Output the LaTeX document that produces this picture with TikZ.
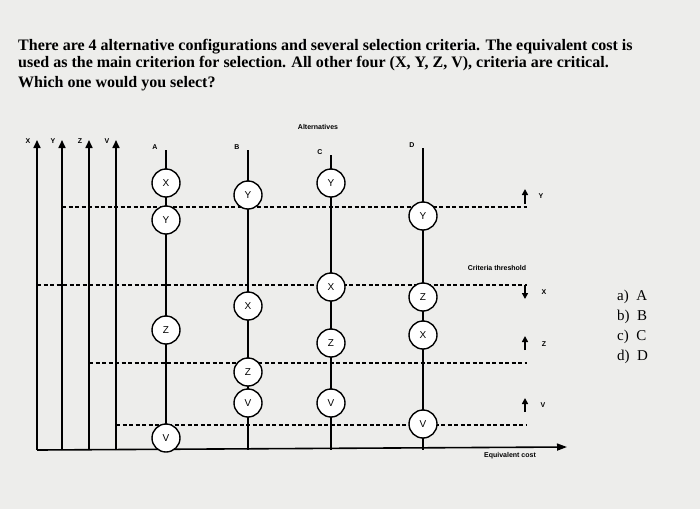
\documentclass[tikz,border=0pt]{standalone}
\usepackage{fontspec}
\setmainfont{Liberation Serif}
\newfontfamily\sansf{Liberation Sans}
\usetikzlibrary{arrows.meta}
\definecolor{bg}{HTML}{EDEDEB}
\begin{document}
\begin{tikzpicture}[x=1pt,y=-1pt,
  crit/.style={circle,draw,line width=1.4pt,minimum size=28pt,inner sep=0pt,fill=white,font=\sansf\fontsize{10}{10}\selectfont},
  alt/.style={line width=1.4pt},
  axis/.style={line width=1.6pt,-{Triangle[length=8pt,width=7pt]}},
  thr/.style={line width=1.3pt,dash pattern=on 4pt off 2.5pt},
  tiny/.style={font=\sansf\bfseries\fontsize{7}{8}\selectfont},
  qtext/.style={anchor=base west,inner sep=0pt,font=\fontsize{16}{18}\selectfont\bfseries},
  ans/.style={anchor=base west,inner sep=0pt,font=\fontsize{15}{16}\selectfont},
  sarrow/.style={line width=1.6pt,-{Triangle[length=6pt,width=6pt]}}]
\fill[bg] (0,0) rectangle (700,509);
\useasboundingbox (0,0) rectangle (700,509);
\node[qtext] (q1) at (18,50) {There are 4 alternative configurations and several selection criteria. The equivalent cost is};
\node[qtext] (q2) at (18,67) {used as the main criterion for selection. All other four (X, Y, Z, V), criteria are critical.};
\node[qtext] (q3) at (18,87) {Which one would you select?};
\node[ans] (a1) at (617,300) {a)\ \ A};
\node[ans] (a2) at (617,320) {b)\ \ B};
\node[ans] (a3) at (617,340) {c)\ \ C};
\node[ans] (a4) at (617,360) {d)\ \ D};
% axes
\coordinate (o) at (37,450);
\coordinate (xe) at (567,447);
\draw[line width=1.6pt,-{Triangle[length=10pt,width=7pt]}] (o) -- (xe);
\foreach \n/\x/\l in {ax/37/X,ay/62/Y,az/89/Z,av/116/V}{
  \coordinate (\n b) at (\x,450);
  \coordinate (\n t) at (\x,140);
  \draw[axis] (\n b) -- (\n t);
  \node[tiny] (\n l) at (\x-9,141) {\l};
}
\node[tiny] (altl) at (318,127) {Alternatives};
\node[tiny] (crl) at (497,268) {Criteria threshold};
\node[tiny] (eql) at (510,456) {Equivalent cost};
% thresholds
\coordinate (ty) at (527,207); \coordinate (tx) at (527,285);
\coordinate (tz) at (527,363); \coordinate (tv) at (527,425);
\draw[thr] (62,207) -- (ty);
\draw[thr] (37,285) -- (tx);
\draw[thr] (89,363) -- (tz);
\draw[thr] (116,425) -- (tv);
\coordinate (ay1) at (525,204); \coordinate (ay2) at (525,189);
\coordinate (ax1) at (525,285); \coordinate (ax2) at (525,299);
\coordinate (az1) at (525,350); \coordinate (az2) at (525,336);
\coordinate (av1) at (525,412); \coordinate (av2) at (525,398);
\draw[sarrow] (ay1) -- (ay2); \draw[sarrow] (ax1) -- (ax2);
\draw[sarrow] (az1) -- (az2); \draw[sarrow] (av1) -- (av2);
\node[tiny] (ly) at (541,196) {Y};
\node[tiny] (lx) at (544,292) {X};
\node[tiny] (lz) at (544,344) {Z};
\node[tiny] (lv) at (543,405) {V};
% alternatives
\foreach \n/\x/\t/\px/\py/\pz/\pv in {A/166/150/183/220/330/438, B/248/150/306/195/372/403, C/331/155/287/183/343/403, D/423/148/335/216/297/424}{
  \coordinate (\n t) at (\x,\t);
  \coordinate (\n b) at (\x,450);
  \draw[alt] (\n t) -- (\n b);
  \node[tiny] (\n l) at (\x-11,\t-3) {\n};
  \node[crit] (\n X) at (\x,\px) {X};
  \node[crit] (\n Y) at (\x,\py) {Y};
  \node[crit] (\n Z) at (\x,\pz) {Z};
  \node[crit] (\n V) at (\x,\pv) {V};
}
\end{tikzpicture}
\end{document}
